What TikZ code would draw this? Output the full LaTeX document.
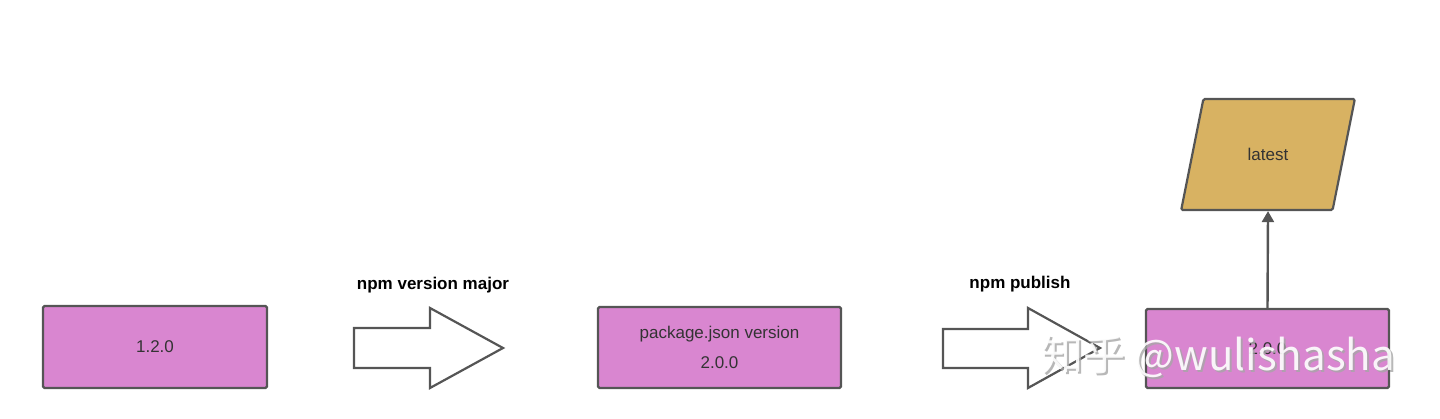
\documentclass[tikz,border=0pt]{standalone}
\usepackage{fontspec}
\setmainfont{Liberation Sans}
\newfontfamily\cjk{Noto Sans CJK SC}
\usetikzlibrary{shapes.geometric,arrows.meta}
\definecolor{boxpink}{HTML}{D986D0}
\definecolor{taggold}{HTML}{D8B262}
\definecolor{linegray}{HTML}{555555}
\definecolor{textgray}{HTML}{333333}
\tikzset{
  verbox/.style={draw=linegray, fill=boxpink, line width=2.2pt, inner sep=0pt, rounded corners=1.5pt,
    minimum width=243pt, minimum height=80pt, align=center, text=textgray,
    font=\fontsize{17}{30}\selectfont},
  stepname/.style={text=black, font=\fontsize{17}{20}\selectfont\bfseries},
  blockarrow/.style={draw=linegray, fill=white, line width=2.2pt, line join=miter},
}
\begin{document}
\begin{tikzpicture}[x=1pt, y=-1pt]
  \useasboundingbox (0,0) rectangle (1440,419);

  % Versions
  \node[verbox, minimum width=224pt, minimum height=82pt] (old) at (155,347) {1.2.0};
  \node[verbox, minimum height=81pt] (pkg) at (719.5,347.5) {package.json version\\2.0.0};
  \node[verbox, minimum height=79pt] (pub) at (1267.5,348.5) {2.0.0};

  % Steps
  \draw[blockarrow] (354,328) -- (430,328) -- (430,308) -- (503,348) -- (430,388) -- (430,368) -- (354,368) -- cycle;
  \node[stepname] (bump) at (433,285) {npm version major};
  \draw[blockarrow] (943,329) -- (1028,329) -- (1028,308) -- (1100,348) -- (1028,388) -- (1028,368) -- (943,368) -- cycle;
  \node[stepname] (publish) at (1020,284) {npm publish};

  % Dist-tag
  \node[trapezium, trapezium left angle=67, trapezium right angle=113, trapezium stretches=true,
    minimum width=174pt, minimum height=111pt, draw=linegray, fill=taggold, line width=2.2pt,
    rounded corners=1.5pt, text=textgray, font=\fontsize{17}{20}\selectfont] (latest) at (1268,154.5) {latest};
  \draw[linegray, line width=2.4pt, -{Triangle[length=11pt, width=12pt]}] (pub.north) -- (latest.south);

  % Watermark
  \node[anchor=west, text=gray!70, opacity=0.8, font=\cjk\fontsize{42}{50}\selectfont] (markshadow) at (1040,358) {知乎 @wulishasha};
  \node[anchor=west, text=white, opacity=0.9, font=\cjk\fontsize{42}{50}\selectfont] (mark) at (1038,356) {知乎 @wulishasha};
\end{tikzpicture}
\end{document}
